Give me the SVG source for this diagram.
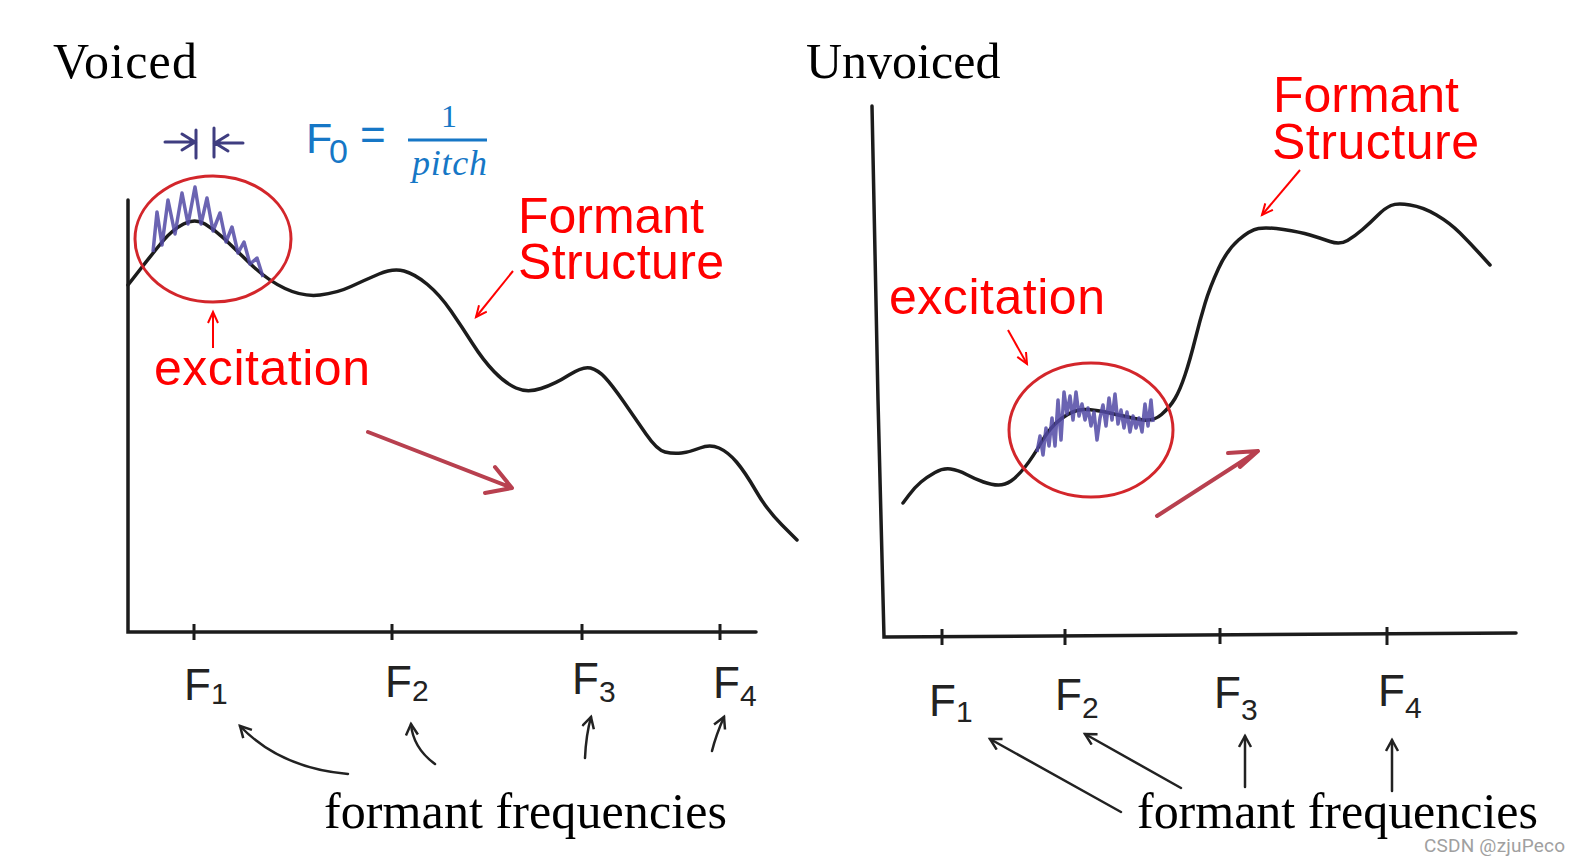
<svg xmlns="http://www.w3.org/2000/svg" width="1580" height="866" viewBox="0 0 1580 866">
<style>
.serif{font-family:"Liberation Serif","Times New Roman",serif;font-size:50px;fill:#000}
.red{font-family:"Liberation Sans",Arial,sans-serif;font-size:50px;fill:#ff0000}
.flab{font-family:"Liberation Sans",Arial,sans-serif;font-size:44px;fill:#222}
.sub{font-size:30px}
.blue{font-family:"Liberation Sans",Arial,sans-serif;fill:#1677c6}
.bluem{font-family:"Liberation Serif","Times New Roman",serif;fill:#1677c6}
.curve{fill:none;stroke:#1c1c1c;stroke-width:3.5;stroke-linecap:round;stroke-linejoin:round}
.axis{fill:none;stroke:#1c1c1c;stroke-width:3.5;stroke-linecap:round}
.tick{stroke:#1c1c1c;stroke-width:3}
.ring{fill:none;stroke:#d3262b;stroke-width:3}
.wig{fill:none;stroke:#5149a5;stroke-width:3.5;stroke-opacity:0.85;stroke-linejoin:round}
.arr{fill:none;stroke:#222;stroke-width:2.5;stroke-linecap:round}
.redarr{fill:none;stroke:#ff0000;stroke-width:2}
.trend{fill:none;stroke:#b8404f;stroke-width:4;stroke-linecap:round;stroke-linejoin:round}
.pur{fill:none;stroke:#3f3d80;stroke-width:3;stroke-linecap:round}
</style>
<defs>
<marker id="ah" markerUnits="userSpaceOnUse" markerWidth="20" markerHeight="20" refX="12" refY="7" orient="auto"><path d="M1,1 L12,7 L1,13" fill="none" stroke="#222" stroke-width="2.5"/></marker>
<marker id="rh" markerUnits="userSpaceOnUse" markerWidth="20" markerHeight="20" refX="12" refY="6" orient="auto"><path d="M1,1 L12,6 L1,11" fill="none" stroke="#ff0000" stroke-width="2"/></marker>
</defs>
<rect width="1580" height="866" fill="#fff"/>

<g id="voiced-title"><text class="serif" x="53" y="78" textLength="144">Voiced</text></g>
<g id="unvoiced-title"><text class="serif" x="806" y="78">Unvoiced</text></g>

<g id="voiced-axes">
<path class="axis" d="M128,200 L128,632 L756,632"/>
<path class="tick" d="M194,624 L194,640 M392,624 L392,640 M582,624 L582,640 M720,624 L720,640"/>
</g>
<g id="voiced-curve">
<path class="curve" d="M128,285 L140.5,269 Q153,253 162.5,241.5 Q172,230 183.5,224 Q195,218 205,224 Q215,230 224,238.5 Q233,247 250,263.5 Q267,280 285,288.5 Q303,297 320,295 Q337,293 351,286.5 Q365,280 379,274 Q393,268 404,271 Q415,274 427.5,284.5 Q440,295 451,311 Q462,327 472.5,343.5 Q483,360 494,371.5 Q505,383 516,388 Q527,393 541,388.5 Q555,384 569,375 Q583,366 590.5,368 Q598,370 605,377.5 Q612,385 623.5,401.5 Q635,418 646,434 Q657,450 665,452 Q673,454 681.5,453 Q690,452 700,448 Q710,444 719,448 Q728,452 736.5,462 Q745,472 756,491 Q767,510 782,525 L797,540"/>
</g>
<g id="voiced-excitation">
<polyline class="wig" points="153,252 157,212 162,245 168,200 175,234 182,193 188,224 195,187 201,224 207,198 213,231 220,213 226,242 232,227 238,253 244,242 250,264 257,258 263,277"/>
<ellipse class="ring" cx="213" cy="239" rx="78" ry="63"/>
</g>
<g id="pitch-period">
<path class="pur" d="M196,130 L196,158 M214,128 L214,157 M165,142 L195,142 M182,134 L195,142 L182,150 M243,143 L215,143 M228,135 L215,143 L228,151"/>
</g>
<g id="f0-formula">
<text class="blue" x="306" y="153" font-size="43">F</text>
<text class="blue" x="329" y="163" font-size="34">0</text>
<text class="blue" x="360" y="150" font-size="44">=</text>
<line x1="408" y1="140" x2="487" y2="140" stroke="#1677c6" stroke-width="3"/>
<text class="bluem" x="449" y="127" text-anchor="middle" font-size="32">1</text>
<text class="bluem" x="412" y="175" font-size="36" font-style="italic" textLength="75">pitch</text>
</g>
<g id="voiced-formant-label">
<text class="red" x="518" y="233" textLength="186">Formant</text>
<text class="red" x="518" y="279" textLength="206">Structure</text>
</g>
<g id="voiced-excitation-label"><text class="red" x="154" y="385" textLength="216">excitation</text></g>
<g id="voiced-flabels">
<text class="flab" x="184" y="700">F<tspan class="sub" dy="4">1</tspan></text>
<text class="flab" x="385" y="697">F<tspan class="sub" dy="4">2</tspan></text>
<text class="flab" x="572" y="694">F<tspan class="sub" dy="8">3</tspan></text>
<text class="flab" x="713" y="698">F<tspan class="sub" dy="8">4</tspan></text>
</g>
<g id="voiced-freq-label"><text class="serif" x="324" y="828" textLength="403">formant frequencies</text></g>

<g id="unvoiced-axes">
<path class="axis" d="M872,106 L878,400 L884,637 L1516,633"/>
<path class="tick" d="M942,629 L942,645 M1065,629 L1065,645 M1220,628 L1220,644 M1387,627 L1387,645"/>
</g>
<g id="unvoiced-curve">
<path class="curve" d="M903,503 L909,495 Q915,487 921,482 Q927,477 935,472.5 Q943,468 950.5,469 Q958,470 966.5,474.5 Q975,479 983.5,482 Q992,485 998.5,485 Q1005,485 1011,481 Q1017,477 1025,467 Q1033,457 1041.5,442 Q1050,427 1061.5,418.5 Q1073,410 1083,409.5 Q1093,409 1110,413 Q1127,417 1140,419.5 Q1153,422 1161.5,414.5 Q1170,407 1175,398.5 Q1180,390 1185,375 Q1190,360 1195,340 Q1200,320 1205,303.5 Q1210,287 1218.5,268.5 Q1227,250 1238.5,240 Q1250,230 1258.5,228.5 Q1267,227 1283.5,229.5 Q1300,232 1310,235 Q1320,238 1330,241.5 Q1340,245 1347.5,240.5 Q1355,236 1362.5,229.5 Q1370,223 1377.5,215.5 Q1385,208 1391,205.5 Q1397,203 1410,205 Q1423,207 1436.5,215 Q1450,223 1460,233 Q1470,243 1480,254 L1490,265"/>
</g>
<g id="unvoiced-excitation">
<polyline class="wig" points="1037,452 1040,436 1043,455 1046,428 1049,446 1052,418 1055,446 1058,400 1061,440 1064,392 1067,414 1070,396 1073,420 1076,392 1079,416 1082,404 1085,420 1088,408 1091,426 1094,412 1097,440 1100,418 1103,405 1106,426 1109,398 1112,420 1115,394 1118,424 1121,410 1124,428 1127,412 1130,432 1133,416 1136,428 1139,418 1142,432 1145,404 1148,426 1151,400 1153,422"/>
<ellipse class="ring" cx="1091" cy="430" rx="82" ry="67"/>
</g>
<g id="unvoiced-formant-label">
<text class="red" x="1273" y="112" textLength="186">Formant</text>
<text class="red" x="1272" y="159" textLength="207">Structure</text>
</g>
<g id="unvoiced-excitation-label"><text class="red" x="889" y="314" textLength="216">excitation</text></g>
<g id="unvoiced-flabels">
<text class="flab" x="929" y="716">F<tspan class="sub" dy="6">1</tspan></text>
<text class="flab" x="1055" y="710">F<tspan class="sub" dy="8">2</tspan></text>
<text class="flab" x="1214" y="708">F<tspan class="sub" dy="12">3</tspan></text>
<text class="flab" x="1378" y="706">F<tspan class="sub" dy="12">4</tspan></text>
</g>
<g id="unvoiced-freq-label"><text class="serif" x="1137" y="828" textLength="401">formant frequencies</text></g>

<g id="connectors">
<path class="arr" d="M348,774 Q280,768 240,726" marker-end="url(#ah)"/>
<path class="arr" d="M435,764 Q413,748 411,724" marker-end="url(#ah)"/>
<path class="arr" d="M585,758 Q586,735 591,717" marker-end="url(#ah)"/>
<path class="arr" d="M712,751 Q716,735 724,717" marker-end="url(#ah)"/>
<path class="arr" d="M1121,812 L990,739" marker-end="url(#ah)"/>
<path class="arr" d="M1181,788 L1085,734" marker-end="url(#ah)"/>
<path class="arr" d="M1245,787 L1245,736" marker-end="url(#ah)"/>
<path class="arr" d="M1392,791 L1392,740" marker-end="url(#ah)"/>
<path class="redarr" d="M213,348 L213,312" marker-end="url(#rh)"/>
<path class="redarr" d="M513,271 L476,317" marker-end="url(#rh)"/>
<path class="redarr" d="M1300,170 L1262,215" marker-end="url(#rh)"/>
<path class="redarr" d="M1008,330 L1027,364" marker-end="url(#rh)"/>
<path class="trend" d="M368,432 L512,488 M495,467 L512,488 L485,493"/>
<path class="trend" d="M1157,516 L1258,451 M1228,453 L1258,451 L1240,467"/>
</g>
<g id="watermark"><text x="1424" y="852" font-family="Roboto,'Noto Sans',sans-serif" font-size="19" fill="#a0a0a0" textLength="141">CSDN @zjuPeco</text></g>
</svg>
